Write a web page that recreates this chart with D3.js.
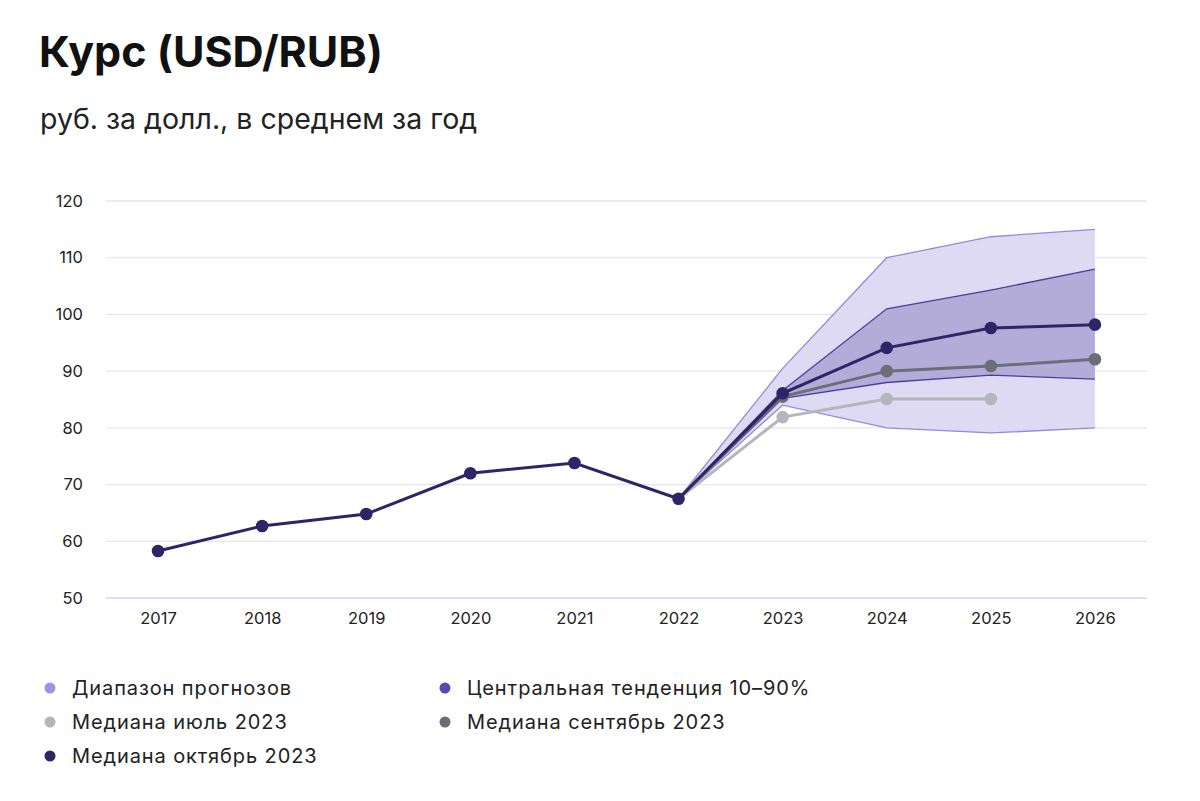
<!DOCTYPE html>
<html>
<head>
<meta charset="utf-8">
<script src="https://cdn.jsdelivr.net/npm/d3@7"></script>
<style>
  body { margin: 0; background: #fff; }
  svg { display: block; font-family: Inter, "Noto Sans", sans-serif; }
</style>
</head>
<body>
<svg width="1200" height="801"></svg>
<script>
// data
const years = [2017, 2018, 2019, 2020, 2021, 2022, 2023, 2024, 2025, 2026];
const yTicks = [50, 60, 70, 80, 90, 100, 110, 120];

const factYears = [2017, 2018, 2019, 2020, 2021, 2022];
const factValues = [58.3, 62.7, 64.8, 72.0, 73.8, 67.5];

const fcYears = [2022, 2023, 2024, 2025, 2026];
const rangeLow = [67.5, 84.0, 80.0, 79.1, 80.0];
const rangeHigh = [67.5, 90.5, 110.0, 113.7, 115.0];
const centralLow = [67.5, 85.2, 88.0, 89.3, 88.6];
const centralHigh = [67.5, 86.6, 101.0, 104.3, 108.0];

const julyYears = [2022, 2023, 2024, 2025];
const julyValues = [67.5, 81.9, 85.1, 85.1];
const septValues = [67.5, 85.5, 90.0, 90.9, 92.1];
const octValues = [67.5, 86.1, 94.1, 97.6, 98.2];

const legendItems = [
  ["Диапазон прогнозов", "#9e90e6"],
  ["Центральная тенденция 10–90%", "#5a49ad"],
  ["Медиана июль 2023", "#b4b6bd"],
  ["Медиана сентябрь 2023", "#6b6e76"],
  ["Медиана октябрь 2023", "#2e2568"]
];

function run() {
  let svg = d3.select("svg");
  let left = 106, right = 1147, top = 201, bottom = 598;

  let x = d3.scalePoint().domain(years).range([left, right]).padding(0.5);
  let y = d3.scaleLinear().domain([50, 120]).range([bottom, top]);

  svg.append("text").attr("x", 39).attr("y", 67)
    .attr("font-size", 43).attr("font-weight", 700).attr("fill", "#111")
    .text("Курс (USD/RUB)");
  svg.append("text").attr("x", 40).attr("y", 129)
    .attr("font-size", 28.5).attr("fill", "#222")
    .text("руб. за долл., в среднем за год");

  // grid
  svg.append("g").selectAll("line").data(yTicks).join("line")
    .attr("x1", left).attr("x2", right)
    .attr("y1", d => y(d)).attr("y2", d => y(d))
    .attr("stroke", d => d === 50 ? "#c9d5ef" : "#e6e6ea")
    .attr("stroke-width", 1.3);

  let yAxis = svg.append("g").attr("transform", `translate(${left},0)`)
    .call(d3.axisLeft(y).tickValues(yTicks).tickSize(0).tickPadding(23));
  yAxis.select(".domain").remove();
  yAxis.selectAll("text").attr("font-size", 16.5).attr("fill", "#222")
    .attr("font-family", "Inter, sans-serif");

  let xAxis = svg.append("g").attr("transform", `translate(0,${bottom})`)
    .call(d3.axisBottom(x).tickSize(0).tickPadding(14).tickFormat(d3.format("d")));
  xAxis.select(".domain").remove();
  xAxis.selectAll("text").attr("font-size", 16.5).attr("fill", "#222")
    .attr("font-family", "Inter, sans-serif");

  // bands
  let area = (lo, hi) => d3.area()
    .x((d, i) => x(fcYears[i])).y0((d, i) => y(lo[i])).y1((d, i) => y(hi[i]))(fcYears);
  let line = (xs, vs) => d3.line().x((d, i) => x(xs[i])).y((d, i) => y(vs[i]))(xs);

  svg.append("path").attr("d", area(rangeLow, rangeHigh))
    .attr("fill", "#dedaf4");
  svg.append("path").attr("d", line(fcYears, rangeHigh)).attr("fill", "none")
    .attr("stroke", "#9488e0").attr("stroke-width", 1.3);
  svg.append("path").attr("d", line(fcYears, rangeLow)).attr("fill", "none")
    .attr("stroke", "#9488e0").attr("stroke-width", 1.3);

  svg.append("path").attr("d", area(centralLow, centralHigh))
    .attr("fill", "#b3acd9");
  svg.append("path").attr("d", line(fcYears, centralHigh)).attr("fill", "none")
    .attr("stroke", "#4b3f9e").attr("stroke-width", 1.3);
  svg.append("path").attr("d", line(fcYears, centralLow)).attr("fill", "none")
    .attr("stroke", "#4b3f9e").attr("stroke-width", 1.3);

  function series(xs, vs, color, skipFirst) {
    svg.append("path").attr("d", line(xs, vs)).attr("fill", "none")
      .attr("stroke", color).attr("stroke-width", 3);
    svg.append("g").selectAll("circle").data(xs.map((d, i) => [d, vs[i]]).slice(skipFirst ? 1 : 0))
      .join("circle").attr("cx", d => x(d[0])).attr("cy", d => y(d[1]))
      .attr("r", 6.3).attr("fill", color);
  }

  series(julyYears, julyValues, "#b4b6bd", true);
  series(fcYears, septValues, "#6b6e76", true);
  series(fcYears, octValues, "#2e2568", true);
  series(factYears, factValues, "#2e2568", false);

  // legend
  let leg = svg.append("g").selectAll("g").data(legendItems).join("g")
    .attr("transform", (d, i) => `translate(${i % 2 === 0 ? 50 : 445},${688 + Math.floor(i / 2) * 34})`);
  leg.append("circle").attr("r", 5.5).attr("fill", d => d[1]);
  leg.append("text").attr("x", 22).attr("dy", "0.35em")
    .attr("font-size", 20).attr("fill", "#222").attr("letter-spacing", 0.9)
    .text(d => d[0]);
}

run();
</script>
</body>
</html>
